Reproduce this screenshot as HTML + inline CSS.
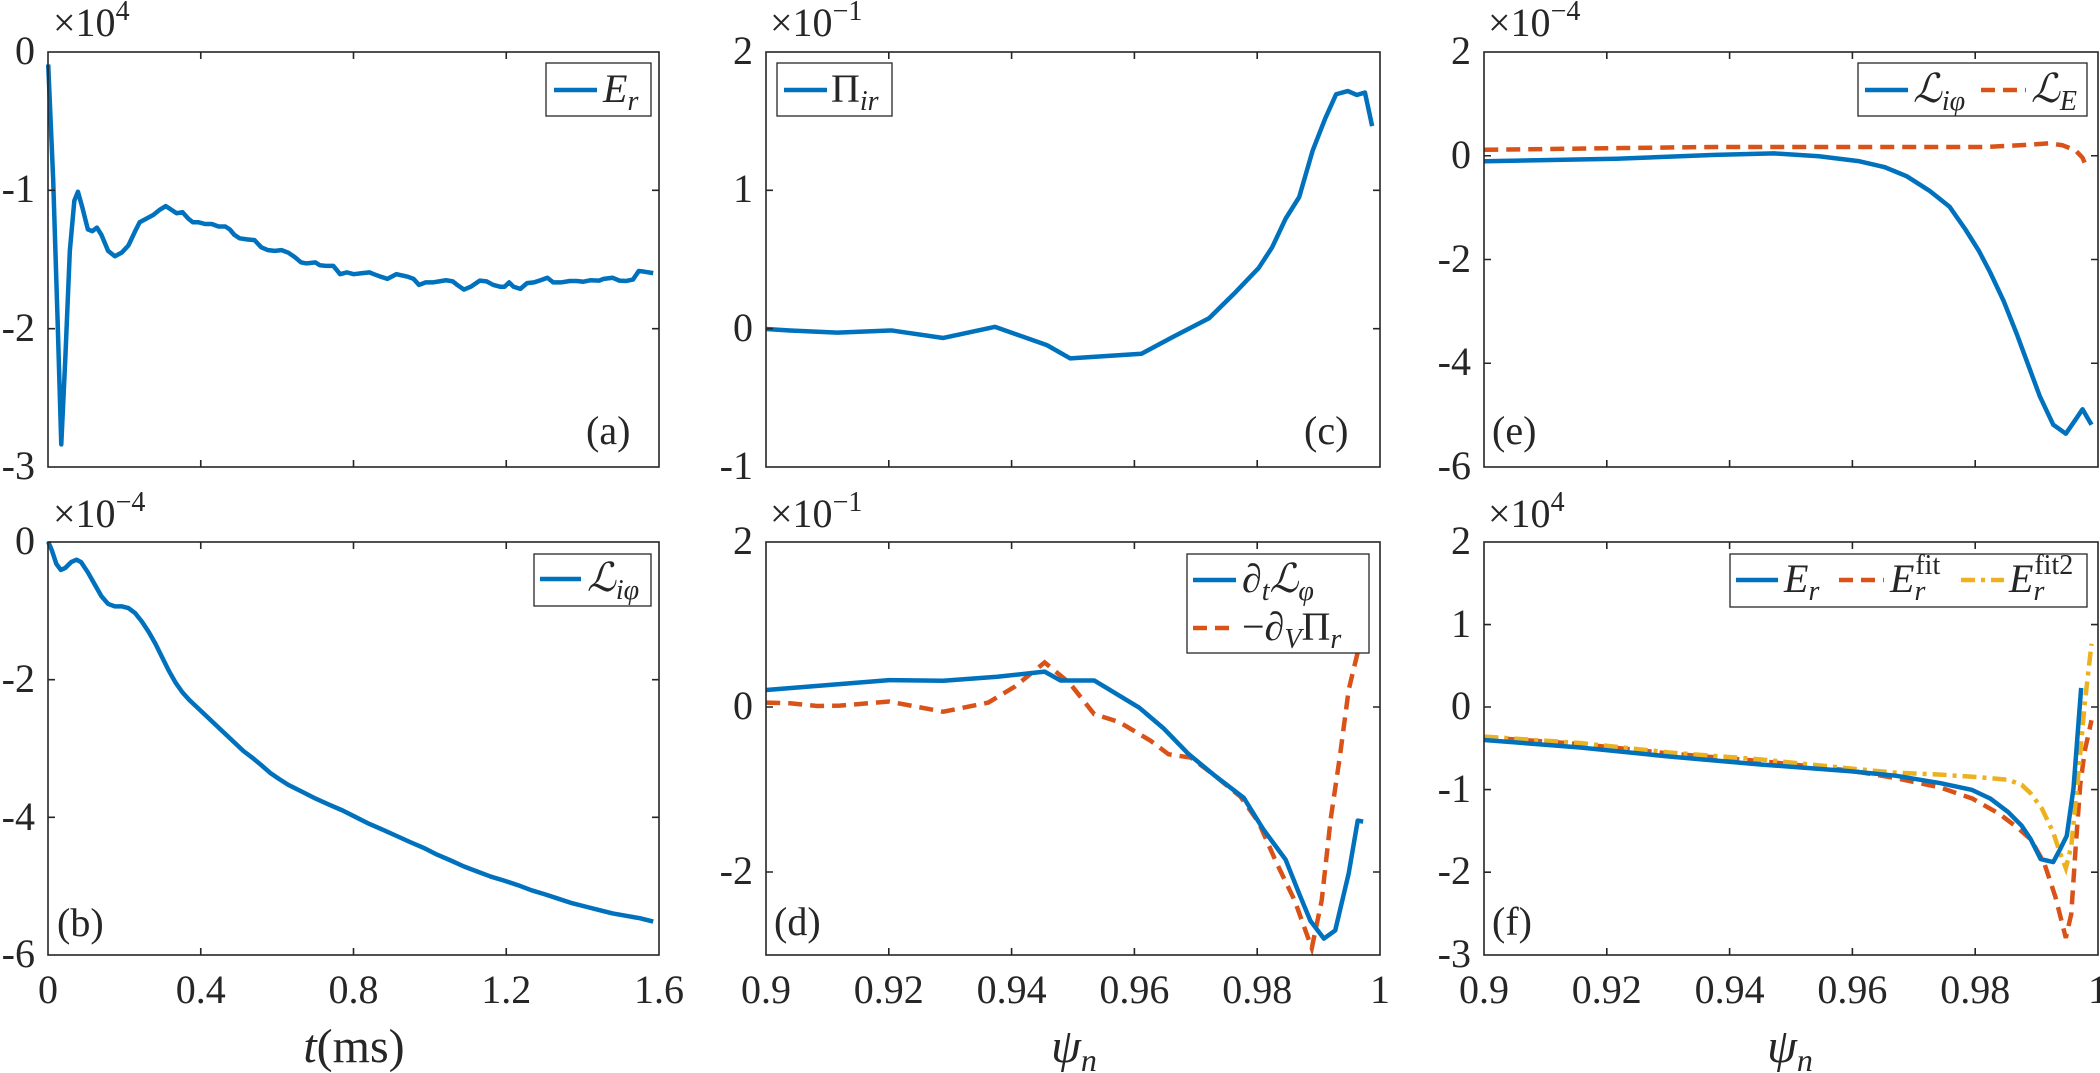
<!DOCTYPE html>
<html><head><meta charset="utf-8"><style>
html,body{margin:0;padding:0;background:#fff}
svg{display:block}
text{font-family:"Liberation Serif","DejaVu Serif",serif;fill:#262626}
.t{font-size:40px}
.it{font-style:italic}
.ax{fill:none;stroke:#262626;stroke-width:1.6}
.b{fill:none;stroke:#0072BD;stroke-width:4.5;stroke-linejoin:round;vector-effect:non-scaling-stroke}
.r{fill:none;stroke:#D95319;stroke-width:4.5;stroke-dasharray:14 8;vector-effect:non-scaling-stroke}
.y{fill:none;stroke:#EDB120;stroke-width:4.5;stroke-dasharray:14 6 4 6;vector-effect:non-scaling-stroke}
.lg{fill:#fff;stroke:#262626;stroke-width:1.3}
</style></head><body>
<svg width="2100" height="1073" viewBox="0 0 2100 1073" xmlns="http://www.w3.org/2000/svg">
<!-- ===== Panel a ===== -->
<g transform="translate(0,0) scale(0.4505,0.3584)">
<polyline class="b" points="107,180 118,500 128,900 136,1240 145,1000 155,700 165,560 173,535 183,580 195,640 205,645 215,635 225,655 240,700 255,715 270,705 285,685 300,645 310,620 325,610 340,600 355,585 368,575 380,585 392,595 405,592 418,610 428,620 440,620 455,625 470,625 485,632 500,632 510,640 520,655 532,665 548,668 565,670 580,690 595,698 610,700 625,698 640,705 655,718 668,732 680,735 700,732 710,740 725,742 740,742 755,765 770,760 785,765 805,762 820,760 830,765 845,772 860,778 880,765 905,772 918,778 930,795 945,788 960,788 975,785 990,782 1005,785 1015,795 1030,808 1045,800 1065,783 1080,785 1095,795 1110,800 1120,800 1130,788 1140,800 1155,806 1170,790 1185,788 1200,782 1215,775 1228,788 1245,788 1265,784 1280,784 1295,786 1310,782 1330,783 1340,778 1360,775 1375,783 1390,784 1405,780 1418,756 1430,758 1450,762"/>
</g>
<rect class="ax" x="48" y="52" width="611" height="415"/>
<path class="ax" d="M200.75,52v7M353.5,52v7M506.25,52v7M200.75,467v-7M353.5,467v-7M506.25,467v-7M48,190.3h7M48,328.7h7M659,190.3h-7M659,328.7h-7"/>
<g class="t" text-anchor="end"><text x="35" y="64">0</text><text x="35" y="202">-1</text><text x="35" y="341">-2</text><text x="35" y="479">-3</text></g>
<text class="t" x="53" y="36">×10<tspan dy="-16" font-size="28">4</tspan></text>
<rect class="lg" x="546" y="63" width="105" height="53"/>
<line x1="554" y1="90" x2="597" y2="90" stroke="#0072BD" stroke-width="4.5"/>
<text class="t it" x="603" y="102">E<tspan font-size="28" dy="8">r</tspan></text>
<text class="t" x="586" y="444">(a)</text>

<!-- ===== Panel b ===== -->
<g transform="translate(0,540) scale(0.4505,0.3401)">
<polyline class="b" points="107,5 115,30 125,70 135,88 145,82 158,65 170,58 180,65 195,95 210,130 225,165 240,188 255,195 270,195 285,200 300,215 315,240 330,270 345,305 360,345 375,385 390,420 405,448 420,470 440,495 460,520 480,545 500,570 520,595 540,620 560,640 580,662 600,685 620,703 640,720 670,740 700,760 730,778 760,795 790,815 820,835 850,852 880,870 910,888 940,905 970,925 1000,942 1030,960 1060,975 1090,990 1120,1002 1150,1015 1180,1030 1210,1042 1240,1055 1270,1068 1300,1078 1330,1088 1360,1098 1390,1105 1420,1112 1450,1122"/>
</g>
<rect class="ax" x="48" y="542" width="611" height="413"/>
<path class="ax" d="M200.75,542v7M353.5,542v7M506.25,542v7M200.75,955v-7M353.5,955v-7M506.25,955v-7M48,679.7h7M48,817.3h7M659,679.7h-7M659,817.3h-7"/>
<g class="t" text-anchor="end"><text x="35" y="554">0</text><text x="35" y="692">-2</text><text x="35" y="830">-4</text><text x="35" y="967">-6</text></g>
<text class="t" x="53" y="527">×10<tspan dy="-16" font-size="28">−4</tspan></text>
<rect class="lg" x="534" y="554" width="117" height="52"/>
<line x1="540" y1="579" x2="581" y2="579" stroke="#0072BD" stroke-width="4.5"/>
<text class="t it" x="587" y="591">ℒ<tspan font-size="28" dy="8">iφ</tspan></text>
<text class="t" x="57" y="936">(b)</text>
<g class="t" text-anchor="middle"><text x="48" y="1003">0</text><text x="200.75" y="1003">0.4</text><text x="353.5" y="1003">0.8</text><text x="506.25" y="1003">1.2</text><text x="659" y="1003">1.6</text></g>
<text x="354" y="1062" font-size="48" text-anchor="middle"><tspan font-style="italic">t</tspan>(ms)</text>

<!-- ===== Panel c ===== -->
<g transform="translate(700,0) scale(0.4505,0.3584)">
<polyline class="b" points="147,918 200,922 305,928 425,922 540,943 655,912 770,963 822,1000 980,987 1050,940 1130,888 1185,820 1240,748 1270,690 1300,610 1330,550 1360,420 1388,330 1412,263 1438,254 1458,265 1476,258 1492,352"/>
</g>
<rect class="ax" x="766" y="52" width="614" height="415"/>
<path class="ax" d="M888.8,52v7M1011.6,52v7M1134.4,52v7M1257.2,52v7M888.8,467v-7M1011.6,467v-7M1134.4,467v-7M1257.2,467v-7M766,190.3h7M766,328.7h7M1380,190.3h-7M1380,328.7h-7"/>
<g class="t" text-anchor="end"><text x="753" y="64">2</text><text x="753" y="202">1</text><text x="753" y="341">0</text><text x="753" y="479">-1</text></g>
<text class="t" x="770" y="36">×10<tspan dy="-16" font-size="28">−1</tspan></text>
<rect class="lg" x="777" y="63" width="115" height="53"/>
<line x1="784" y1="90" x2="827" y2="90" stroke="#0072BD" stroke-width="4.5"/>
<text class="t" x="831" y="102">Π<tspan font-size="28" dy="8" font-style="italic">ir</tspan></text>
<text class="t" x="1304" y="444">(c)</text>

<!-- ===== Panel d ===== -->
<g transform="translate(700,540) scale(0.4505,0.3401)">
<polyline class="r" points="147,478 200,480 260,488 310,487 420,475 540,505 640,478 700,430 765,360 820,420 875,512 930,535 1000,590 1040,630 1090,640 1140,690 1200,755 1240,830 1280,950 1320,1060 1358,1200 1380,1060 1400,820 1420,640 1440,440 1460,330 1468,220"/>
<polyline class="b" points="147,441 420,412 540,414 660,402 765,387 800,413 875,413 975,493 1030,555 1085,630 1140,690 1207,758 1250,850 1300,940 1330,1040 1355,1120 1385,1172 1410,1148 1440,980 1460,825 1472,828"/>
</g>
<rect class="ax" x="766" y="542" width="614" height="413"/>
<path class="ax" d="M888.8,542v7M1011.6,542v7M1134.4,542v7M1257.2,542v7M888.8,955v-7M1011.6,955v-7M1134.4,955v-7M1257.2,955v-7M766,707h7M766,872h7M1380,707h-7M1380,872h-7"/>
<g class="t" text-anchor="end"><text x="753" y="554">2</text><text x="753" y="719">0</text><text x="753" y="884">-2</text></g>
<text class="t" x="770" y="527">×10<tspan dy="-16" font-size="28">−1</tspan></text>
<rect class="lg" x="1187" y="554" width="182" height="99"/>
<line x1="1193" y1="580" x2="1236" y2="580" stroke="#0072BD" stroke-width="4.5"/>
<line x1="1193" y1="628" x2="1236" y2="628" stroke="#D95319" stroke-width="4.5" stroke-dasharray="14 8"/>
<text class="t" x="1242" y="592">∂<tspan font-size="28" dy="8" font-style="italic">t</tspan><tspan dy="-8" font-style="italic">ℒ</tspan><tspan font-size="28" dy="8" font-style="italic">φ</tspan></text>
<text class="t" x="1242" y="640">−∂<tspan font-size="28" dy="8" font-style="italic">V</tspan><tspan dy="-8">Π</tspan><tspan font-size="28" dy="8" font-style="italic">r</tspan></text>
<text class="t" x="774" y="935">(d)</text>
<g class="t" text-anchor="middle"><text x="766" y="1003">0.9</text><text x="888.8" y="1003">0.92</text><text x="1011.6" y="1003">0.94</text><text x="1134.4" y="1003">0.96</text><text x="1257.2" y="1003">0.98</text><text x="1380" y="1003">1</text></g>
<text x="1074" y="1062" font-size="48" font-style="italic" text-anchor="middle">ψ<tspan font-size="32" dy="9">n</tspan></text>

<!-- ===== Panel e ===== -->
<g transform="translate(1400,0) scale(0.4505,0.3584)">
<polyline class="r" points="187,418 500,413 700,410 900,410 1100,410 1300,410 1380,405 1440,400 1470,405 1500,420 1515,440 1525,470"/>
<polyline class="b" points="187,450 480,443 700,432 830,428 930,436 1020,450 1075,466 1125,492 1175,532 1220,577 1255,640 1285,700 1310,760 1340,840 1370,935 1395,1020 1420,1105 1450,1185 1478,1210 1500,1170 1515,1142 1535,1185"/>
</g>
<rect class="ax" x="1484" y="52" width="614" height="415"/>
<path class="ax" d="M1606.8,52v7M1729.6,52v7M1852.4,52v7M1975.2,52v7M1606.8,467v-7M1729.6,467v-7M1852.4,467v-7M1975.2,467v-7M1484,155.75h7M1484,259.5h7M1484,363.25h7M2098,155.75h-7M2098,259.5h-7M2098,363.25h-7"/>
<g class="t" text-anchor="end"><text x="1471" y="64">2</text><text x="1471" y="168">0</text><text x="1471" y="272">-2</text><text x="1471" y="375">-4</text><text x="1471" y="479">-6</text></g>
<text class="t" x="1488" y="36">×10<tspan dy="-16" font-size="28">−4</tspan></text>
<rect class="lg" x="1858" y="63" width="229" height="53"/>
<line x1="1865" y1="90" x2="1908" y2="90" stroke="#0072BD" stroke-width="4.5"/>
<text class="t it" x="1913" y="102">ℒ<tspan font-size="28" dy="8">iφ</tspan></text>
<line x1="1981" y1="90" x2="2026" y2="90" stroke="#D95319" stroke-width="4.5" stroke-dasharray="14 8"/>
<text class="t it" x="2031" y="102">ℒ<tspan font-size="28" dy="8">E</tspan></text>
<text class="t" x="1492" y="444">(e)</text>

<!-- ===== Panel f ===== -->
<g transform="translate(1400,540) scale(0.4505,0.3401)">
<polyline class="r" points="187,580 400,600 600,628 800,650 1000,678 1100,700 1200,728 1270,760 1330,805 1370,845 1400,880 1430,950 1455,1050 1478,1170 1490,1100 1500,900 1510,720 1520,620 1535,530"/>
<polyline class="y" points="187,578 400,597 600,625 800,645 1000,672 1100,684 1200,690 1280,697 1350,705 1380,720 1400,745 1425,790 1450,860 1465,920 1478,965 1490,900 1505,700 1520,480 1535,305"/>
<polyline class="b" points="187,588 400,610 600,637 800,660 1000,680 1100,693 1200,715 1270,735 1310,760 1350,800 1380,840 1400,880 1422,938 1450,947 1465,910 1480,870 1495,730 1512,435"/>
</g>
<rect class="ax" x="1484" y="542" width="614" height="413"/>
<path class="ax" d="M1606.8,542v7M1729.6,542v7M1852.4,542v7M1975.2,542v7M1606.8,955v-7M1729.6,955v-7M1852.4,955v-7M1975.2,955v-7M1484,624.6h7M1484,707h7M1484,789.6h7M1484,872.2h7M2098,624.6h-7M2098,707h-7M2098,789.6h-7M2098,872.2h-7"/>
<g class="t" text-anchor="end"><text x="1471" y="554">2</text><text x="1471" y="637">1</text><text x="1471" y="719">0</text><text x="1471" y="802">-1</text><text x="1471" y="884">-2</text><text x="1471" y="967">-3</text></g>
<text class="t" x="1488" y="527">×10<tspan dy="-16" font-size="28">4</tspan></text>
<rect class="lg" x="1730" y="554" width="357" height="53"/>
<line x1="1736" y1="580" x2="1778" y2="580" stroke="#0072BD" stroke-width="4.5"/>
<text class="t it" x="1784" y="592">E<tspan font-size="28" dy="8">r</tspan></text>
<line x1="1839" y1="580" x2="1884" y2="580" stroke="#D95319" stroke-width="4.5" stroke-dasharray="14 8"/>
<text class="t it" x="1890" y="592">E<tspan font-size="28" dy="8">r</tspan><tspan font-size="28" dx="-10" dy="-26" font-style="normal">fit</tspan></text>
<line x1="1961" y1="580" x2="2004" y2="580" stroke="#EDB120" stroke-width="4.5" stroke-dasharray="14 6 4 6"/>
<text class="t it" x="2009" y="592">E<tspan font-size="28" dy="8">r</tspan><tspan font-size="28" dx="-10" dy="-26" font-style="normal">fit2</tspan></text>
<text class="t" x="1492" y="935">(f)</text>
<g class="t" text-anchor="middle"><text x="1484" y="1003">0.9</text><text x="1606.8" y="1003">0.92</text><text x="1729.6" y="1003">0.94</text><text x="1852.4" y="1003">0.96</text><text x="1975.2" y="1003">0.98</text><text x="2098" y="1003">1</text></g>
<text x="1790" y="1062" font-size="48" font-style="italic" text-anchor="middle">ψ<tspan font-size="32" dy="9">n</tspan></text>
</svg>
</body></html>
